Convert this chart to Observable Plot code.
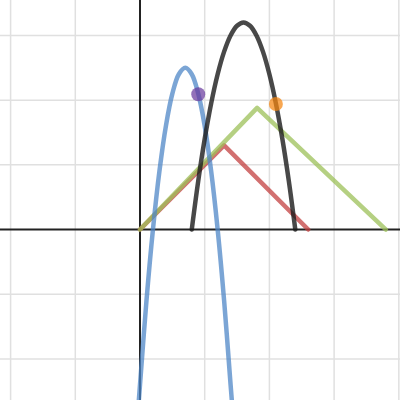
<!DOCTYPE html>
<html>
<head>
<meta charset="utf-8">
<script src="https://cdn.jsdelivr.net/npm/d3@7"></script>
<script src="https://cdn.jsdelivr.net/npm/@observablehq/plot@0.6"></script>
<style>
  html, body { margin: 0; padding: 0; background: #fff; }
  #chart svg { display: block; }
</style>
</head>
<body>
<div id="chart"></div>
<script>
// Grid ticks
const xGrid = [-2, -1, 1, 2, 3, 4];
const yGrid = [-2, -1, 1, 2, 3];

// Blue parabola
const blueX = [-0.03, 0.0, 0.1, 0.2, 0.3, 0.4, 0.5, 0.6, 0.7, 0.8, 0.9, 1.0, 1.1, 1.2, 1.3, 1.4, 1.44];
const blueY = [-2.8, -2.4, -1.1, 0.0, 0.9, 1.6, 2.1, 2.4, 2.5, 2.4, 2.1, 1.6, 0.9, 0.0, -1.1, -2.4, -2.9];

// Black parabola
const blackX = [0.8, 0.9, 1.0, 1.1, 1.2, 1.3, 1.4, 1.5, 1.6, 1.7, 1.8, 1.9, 2.0, 2.1, 2.2, 2.3, 2.4];
const blackY = [0, 0.75, 1.4, 1.95, 2.4, 2.75, 3.0, 3.15, 3.2, 3.15, 3.0, 2.75, 2.4, 1.95, 1.4, 0.75, 0];

// Red triangle
const redX = [0, 1.3, 2.6];
const redY = [0, 1.3, 0];

// Green triangle
const greenX = [0, 1.81, 3.8];
const greenY = [0, 1.88, 0];

// Points
const purplePt = [0.9, 2.09];
const orangePt = [2.1, 1.94];

const toRows = (xs, ys) => xs.map((x, i) => ({x, y: ys[i]}));

const lineOpts = {x: "x", y: "y", strokeWidth: 4.5, strokeOpacity: 0.75, strokeLinecap: "round", strokeLinejoin: "round"};

const chart = Plot.plot({
  width: 400,
  height: 400,
  margin: 0,
  x: {domain: [-2.156, 4.026], axis: null},
  y: {domain: [-2.643, 3.54], axis: null},
  clip: true,
  marks: [
    Plot.ruleX(xGrid, {stroke: "#e0e0e0", strokeWidth: 1.5}),
    Plot.ruleY(yGrid, {stroke: "#e0e0e0", strokeWidth: 1.5}),
    Plot.ruleX([0], {stroke: "#222", strokeWidth: 2}),
    Plot.ruleY([0], {stroke: "#222", strokeWidth: 2}),
    Plot.line(toRows(redX, redY), {...lineOpts, stroke: "#c34040"}),
    Plot.line(toRows(greenX, greenY), {...lineOpts, stroke: "#9cc058"}),
    Plot.line(toRows(blueX, blueY), {...lineOpts, stroke: "#4f87c7", curve: "catmull-rom"}),
    Plot.line(toRows(blackX, blackY), {...lineOpts, stroke: "#1a1a1a", strokeOpacity: 0.8, curve: "catmull-rom"}),
    Plot.dot([purplePt], {x: d => d[0], y: d => d[1], r: 7, fill: "#6a3a9e", fillOpacity: 0.72, stroke: "none"}),
    Plot.dot([orangePt], {x: d => d[0], y: d => d[1], r: 7, fill: "#f5850f", fillOpacity: 0.72, stroke: "none"})
  ]
});
document.getElementById("chart").appendChild(chart);
</script>
</body>
</html>
